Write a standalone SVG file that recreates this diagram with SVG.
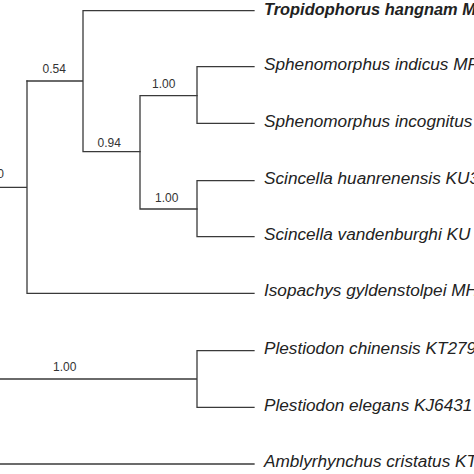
<svg xmlns="http://www.w3.org/2000/svg" width="474" height="474" viewBox="0 0 474 474">
<style>
.br{fill:none;stroke:#3a3a3a;stroke-width:1.3;stroke-linecap:square}
.tx{font-family:"Liberation Sans",Arial,sans-serif;font-style:italic;font-size:17.2px;fill:#222}
.b{font-weight:bold;font-size:16.4px}
.lb{font-family:"Liberation Sans",Arial,sans-serif;font-size:12px;fill:#333}
</style>
<rect width="474" height="474" fill="#fff"/>
<g id="connectors">
<path class="br" d="M0,187.3H27M27,81V293.3H254"/>
<path class="br" d="M27,81H83M83,10.7V151.7M83,10.7H254M83,151.7H140"/>
<path class="br" d="M140,95.7V209M140,95.7H197M140,209H197"/>
<path class="br" d="M197,66.7V123.3M197,66.7H254M197,123.3H254"/>
<path class="br" d="M197,180.7V236.7M197,180.7H254M197,236.7H254"/>
<path class="br" d="M0,379H197M197,350.7V407.3M197,350.7H254M197,407.3H254"/>
<path class="br" d="M0,464H254"/>
</g>
<g id="labels">
<text class="lb" x="4" y="178" text-anchor="end">1.00</text>
<text class="lb" x="42.5" y="72.7">0.54</text>
<text class="lb" x="97.5" y="146.7">0.94</text>
<text class="lb" x="152" y="88">1.00</text>
<text class="lb" x="155" y="201.7">1.00</text>
<text class="lb" x="53" y="370.7">1.00</text>
</g>
<g id="n1"><text class="tx b" x="264" y="15">Tropidophorus hangnam M</text></g>
<g id="n2"><text class="tx" x="264" y="70">Sphenomorphus indicus MP</text></g>
<g id="n3"><text class="tx" x="264" y="126.5">Sphenomorphus incognitus</text></g>
<g id="n4"><text class="tx" x="264" y="184">Scincella huanrenensis KU3</text></g>
<g id="n5"><text class="tx" x="264" y="240">Scincella vandenburghi KU</text></g>
<g id="n6"><text class="tx" x="264" y="296">Isopachys gyldenstolpei MH</text></g>
<g id="n7"><text class="tx" x="264" y="354">Plestiodon chinensis KT279</text></g>
<g id="n8"><text class="tx" x="264" y="410.5">Plestiodon elegans KJ6431</text></g>
<g id="n9"><text class="tx" x="264" y="467">Amblyrhynchus cristatus KT</text></g>
</svg>
